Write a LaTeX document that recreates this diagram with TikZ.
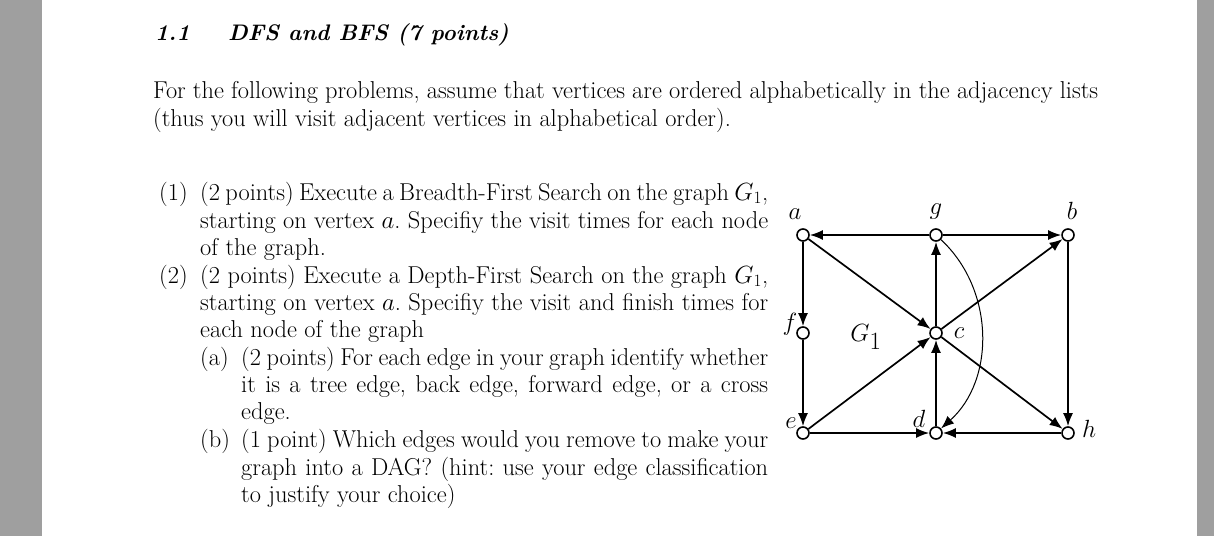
\documentclass[tikz,border=0pt]{standalone}
\usetikzlibrary{arrows.meta}
\begin{document}
\frenchspacing
\begin{tikzpicture}[x=1pt,y=-1pt,
  txt/.style={anchor=base west,inner sep=0pt,font=\fontsize{24.4}{27}\selectfont},
  ttl/.style={anchor=base west,inner sep=0pt,font=\fontsize{22.5}{27}\selectfont\bfseries\itshape},
  vtx/.style={circle,draw,line width=1.6pt,fill=white,minimum size=12pt,inner sep=0pt},
  lbl/.style={inner sep=0pt,font=\fontsize{34}{36}\selectfont},
  edg/.style={line width=1.7pt,-{Latex[length=13pt,width=10pt]}}]
\useasboundingbox (0,0) rectangle (1214,536);
\fill[gray!75] (0,0) rectangle (42,536);
\fill[gray!75] (1197,0) rectangle (1214,536);
\node[ttl] (t1) at (155,40) {1.1};
\node[ttl] (t2) at (228,40) {DFS and BFS (7 points)};
\node[txt] (p1) at (153,98) {\makebox[945pt][s]{For the following problems, assume that vertices are ordered alphabetically in the adjacency lists}};
\node[txt] (p2) at (153,126) {(thus you will visit adjacent vertices in alphabetical order).};
\node[txt] (n1) at (159,200) {(1)};
\node[txt] (l1) at (200,200) {\makebox[568pt][s]{(2 points) Execute a Breadth-First Search on the graph $G_1$,}};
\node[txt] (l2) at (200,228) {\makebox[568pt][s]{starting on vertex $a$. Specifiy the visit times for each node}};
\node[txt] (l3) at (200,255) {of the graph.};
\node[txt] (n2) at (159,283) {(2)};
\node[txt] (l4) at (200,283) {\makebox[568pt][s]{(2 points) Execute a Depth-First Search on the graph $G_1$,}};
\node[txt] (l5) at (200,310) {\makebox[568pt][s]{starting on vertex $a$. Specifiy the visit and finish times for}};
\node[txt] (l6) at (200,337) {each node of the graph};
\node[txt] (na) at (200,365) {(a)};
\node[txt] (l7) at (241,365) {\makebox[527pt][s]{(2 points) For each edge in your graph identify whether}};
\node[txt] (l8) at (241,392) {\makebox[527pt][s]{it is a tree edge, back edge, forward edge, or a cross}};
\node[txt] (l9) at (241,419) {edge.};
\node[txt] (nb) at (200,447) {(b)};
\node[txt] (l10) at (241,447) {\makebox[527pt][s]{(1 point) Which edges would you remove to make your}};
\node[txt] (l11) at (241,475) {\makebox[527pt][s]{graph into a DAG? (hint: use your edge classification}};
\node[txt] (l12) at (241,502) {to justify your choice)};
% graph
\node[vtx] (a) at (803,235) {};
\node[vtx] (g) at (936,235) {};
\node[vtx] (b) at (1068,235) {};
\node[vtx] (f) at (803,333) {};
\node[vtx] (c) at (936,333) {};
\node[vtx] (e) at (803,433) {};
\node[vtx] (d) at (936,433) {};
\node[vtx] (h) at (1068,433) {};
\node[lbl] (la) at (795,214) {$a$};
\node[lbl] (lg) at (936,212) {$g$};
\node[lbl] (lb) at (1072,211) {$b$};
\node[lbl] (lf) at (790,324) {$f$};
\node[lbl] (lc) at (959,333) {$c$};
\node[lbl] (le) at (791,423) {$e$};
\node[lbl] (ld) at (919,419) {$d$};
\node[lbl] (lh) at (1089,429) {$h$};
\node[lbl,font=\fontsize{38}{40}\selectfont] (G) at (866,337) {$G_1$};
\draw[edg] (g) -- (a);
\draw[edg] (g) -- (b);
\draw[edg] (a) -- (f);
\draw[edg] (a) -- (c);
\draw[edg] (f) -- (e);
\draw[edg] (e) -- (c);
\draw[edg] (e) -- (d);
\draw[edg] (d) -- (c);
\draw[edg] (c) -- (g);
\draw[edg] (c) -- (b);
\draw[edg] (c) -- (h);
\draw[edg] (b) -- (h);
\draw[edg] (h) -- (d);
\draw[line width=1pt,-{Latex[length=13pt,width=10pt]}] (g) .. controls (995,290) and (995,380) .. (d);
\end{tikzpicture}
\end{document}
